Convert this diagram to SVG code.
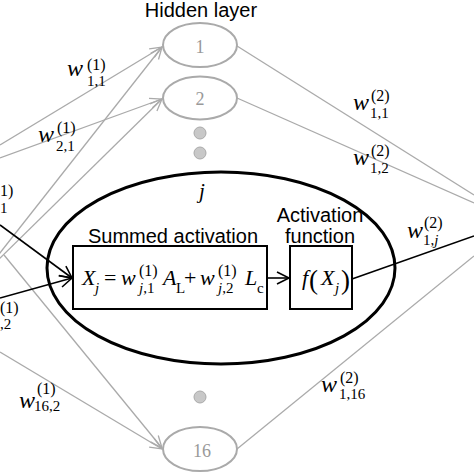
<svg xmlns="http://www.w3.org/2000/svg" width="474" height="474" viewBox="0 0 474 474">
<defs>
<style>
.title{font-family:"Liberation Sans",Arial,sans-serif;font-size:20px;fill:#000}
.hn{fill:none;stroke:#aaa;stroke-width:2}
.hl{font-family:"Liberation Serif","Times New Roman",serif;font-size:18px;fill:#999;text-anchor:middle}
.dot{fill:#c8c8c8;stroke:#aaa;stroke-width:1}
.g{stroke:#aaa;stroke-width:1.3;fill:none}
.k{stroke:#000;stroke-width:1.6;fill:none}
.m{font-family:"Liberation Serif","Times New Roman",serif;fill:#000}
.w{font-style:italic;font-size:24px}
.s{font-size:16px}
.b{font-size:15px}
.fi{font-style:italic;font-size:22px}
.fu{font-size:22px}
.box{fill:#fff;stroke:#000;stroke-width:2}
</style>
<marker id="ag" viewBox="-13 -7 15 14" refX="0" refY="0" markerWidth="15" markerHeight="14" markerUnits="userSpaceOnUse" orient="auto">
<path d="M-12,-5 L0,0 L-12,5" fill="none" stroke="#aaa" stroke-width="1.3"/>
</marker>
<marker id="ak" viewBox="-13 -7 15 14" refX="0" refY="0" markerWidth="15" markerHeight="14" markerUnits="userSpaceOnUse" orient="auto">
<path d="M-12,-6 L0,0 L-12,6" fill="none" stroke="#000" stroke-width="1.6"/>
</marker>
</defs>
<rect width="474" height="474" fill="#fff"/>

<text class="title" x="201" y="17" text-anchor="middle">Hidden layer</text>

<g id="connectors">
<line class="g" x1="0" y1="145" x2="162" y2="47" marker-end="url(#ag)"/>
<line class="g" x1="0" y1="158" x2="162" y2="99" marker-end="url(#ag)"/>
<line class="g" x1="-4" y1="258" x2="162" y2="47" marker-end="url(#ag)"/>
<line class="g" x1="-4" y1="262" x2="162" y2="99" marker-end="url(#ag)"/>
<line class="g" x1="4" y1="255" x2="162" y2="448" marker-end="url(#ag)"/>
<line class="g" x1="0" y1="352" x2="162" y2="449" marker-end="url(#ag)"/>
<line class="g" x1="237" y1="46" x2="474" y2="195"/>
<line class="g" x1="237" y1="98" x2="474" y2="203"/>
<line class="g" x1="237" y1="449" x2="474" y2="256"/>
<line class="k" x1="0" y1="225" x2="72" y2="278" marker-end="url(#ak)"/>
<line class="k" x1="0" y1="298" x2="72" y2="278" marker-end="url(#ak)"/>
<line class="k" x1="267" y1="278" x2="289" y2="278" marker-end="url(#ak)"/>
<line class="k" x1="352" y1="279" x2="474" y2="236"/>
</g>

<g id="node1">
<ellipse class="hn" cx="200" cy="45" rx="37" ry="22"/>
<text class="hl" x="200" y="53">1</text>
</g>
<g id="node2">
<ellipse class="hn" cx="200" cy="98" rx="37" ry="21.5"/>
<text class="hl" x="200" y="105">2</text>
</g>
<g id="dots">
<circle class="dot" cx="200" cy="133" r="6"/>
<circle class="dot" cx="200" cy="153" r="6"/>
<circle class="dot" cx="200" cy="397" r="6"/>
</g>
<g id="node16">
<ellipse class="hn" cx="200" cy="449" rx="37" ry="22"/>
<text class="hl" x="202" y="457">16</text>
</g>

<g id="nodej">
<ellipse cx="221" cy="268" rx="174" ry="96" fill="none" stroke="#000" stroke-width="3"/>
<text class="m" x="199" y="198" font-size="21" font-style="italic">j</text>
</g>

<g id="summed">
<text class="title" x="173" y="243" text-anchor="middle">Summed activation</text>
<rect class="box" x="73" y="246" width="194" height="63"/>
<text class="m">
<tspan class="fi" x="82" y="285">X</tspan><tspan class="b" font-style="italic" x="95" y="293">j</tspan>
<tspan class="fu" x="104" y="285">=</tspan>
<tspan class="fi" x="121" y="285">w</tspan><tspan class="s" x="139" y="276">(1)</tspan><tspan class="b" font-style="italic" x="139" y="293">j</tspan><tspan class="b" y="293">,1</tspan>
<tspan class="fi" x="163" y="285">A</tspan><tspan class="b" x="176" y="293">L</tspan>
<tspan class="fu" x="184" y="285">+</tspan>
<tspan class="fi" x="200" y="285">w</tspan><tspan class="s" x="218" y="276">(1)</tspan><tspan class="b" font-style="italic" x="218" y="293">j</tspan><tspan class="b" y="293">,2</tspan>
<tspan class="fi" x="245" y="285">L</tspan><tspan class="b" x="257" y="293">c</tspan>
</text>
</g>

<g id="activation">
<text class="title" x="320" y="222" text-anchor="middle" font-size="19">Activation</text>
<text class="title" x="320" y="243" text-anchor="middle" font-size="19">function</text>
<rect class="box" x="290" y="246" width="62" height="63"/>
<text class="m">
<tspan class="fi" x="302" y="285">f</tspan><tspan x="309" y="289" font-size="27">(</tspan><tspan class="fi" x="321" y="285">X</tspan><tspan class="b" font-style="italic" x="335" y="293">j</tspan><tspan x="341" y="289" font-size="27">)</tspan>
</text>
</g>

<g id="labels" class="m">
<text><tspan class="w" x="67" y="76">w</tspan><tspan class="s" x="87" y="70">(1)</tspan><tspan class="b" x="87" y="86">1,1</tspan></text>
<text><tspan class="w" x="38" y="142">w</tspan><tspan class="s" x="57" y="133">(1)</tspan><tspan class="b" x="56" y="151">2,1</tspan></text>
<text><tspan class="s" x="0" y="196">1)</tspan><tspan class="b" x="0" y="213">1</tspan></text>
<text><tspan class="s" x="0" y="313">(1)</tspan><tspan class="b" x="0" y="329">,2</tspan></text>
<text><tspan class="w" x="19" y="408">w</tspan><tspan class="s" x="37" y="394">(1)</tspan><tspan class="b" x="34" y="411">16,2</tspan></text>
<text><tspan class="w" x="353" y="110">w</tspan><tspan class="s" x="371" y="101">(2)</tspan><tspan class="b" x="370" y="118">1,1</tspan></text>
<text><tspan class="w" x="353" y="165">w</tspan><tspan class="s" x="371" y="156">(2)</tspan><tspan class="b" x="370" y="173">1,2</tspan></text>
<text><tspan class="w" x="407" y="238">w</tspan><tspan class="s" x="424" y="228">(2)</tspan><tspan class="b" x="423" y="245">1,</tspan><tspan class="b" font-style="italic" y="245">j</tspan></text>
<text><tspan class="w" x="321" y="392">w</tspan><tspan class="s" x="340" y="383">(2)</tspan><tspan class="b" x="339" y="399">1,16</tspan></text>
</g>
</svg>
